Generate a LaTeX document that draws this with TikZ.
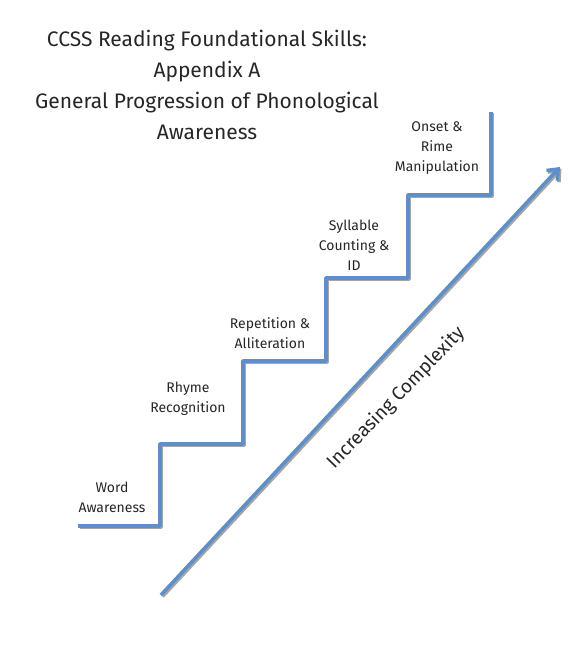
\documentclass[tikz,border=0pt]{standalone}
\usepackage{fontspec}
\setmainfont{Fira Sans}
\usetikzlibrary{arrows.meta}
\definecolor{stairblue}{HTML}{5E8FC8}
\begin{document}
\begin{tikzpicture}[x=1pt,y=-1pt,
  stair/.style={draw=stairblue,line width=3.6pt,line join=round},
  shade/.style={draw=black!35,line width=3.6pt,line join=round},
  tip/.style={-{Straight Barb[length=9pt,width=15pt,line width=3.6pt]}},
  lbl/.style={align=center,font=\fontsize{14}{20}\selectfont,text=black!85},
  ttl/.style={align=center,font=\fontsize{21}{31}\selectfont,text=black!85}]
\useasboundingbox (0,0) rectangle (578,647);
% staircase corners
\coordinate (s0) at (78,526);
\coordinate (s1) at (160,526);
\coordinate (s2) at (160,444);
\coordinate (s3) at (243,444);
\coordinate (s4) at (243,361);
\coordinate (s5) at (326,361);
\coordinate (s6) at (326,278);
\coordinate (s7) at (408,278);
\coordinate (s8) at (408,195);
\coordinate (s9) at (491,195);
\coordinate (s10) at (491,112);
\coordinate (a0) at (161,595);
\coordinate (a1) at (560,167);
% shadows
\draw[shade,transform canvas={shift={(1.5pt,-1.5pt)}}] (s0) -- (s1) -- (s2) -- (s3) -- (s4) -- (s5) -- (s6) -- (s7) -- (s8) -- (s9) -- (s10);
\draw[shade,tip,transform canvas={shift={(1.5pt,-1.5pt)}}] (a0) -- (a1);
% staircase
\draw[stair] (s0) -- (s1) -- (s2) -- (s3) -- (s4) -- (s5) -- (s6) -- (s7) -- (s8) -- (s9) -- (s10);
% arrow
\draw[stair,tip] (a0) -- (a1);
% title
\node[ttl] (title) at (207,85) {CCSS Reading Foundational Skills:\\Appendix A\\General Progression of Phonological\\Awareness};
% labels
\node[lbl] (w) at (112,497) {Word\\Awareness};
\node[lbl] (r) at (188,399) {Rhyme\\Recognition};
\node[lbl] (ra) at (270,333) {Repetition \&\\Alliteration};
\node[lbl] (sc) at (354,245) {Syllable\\Counting \&\\ID};
\node[lbl] (or) at (437,148) {Onset \&\\Rime\\Manipulation};
\node[font=\fontsize{19}{22}\selectfont,text=black!85,rotate=46] (ic) at (396,398) {Increasing Complexity};
\end{tikzpicture}
\end{document}
